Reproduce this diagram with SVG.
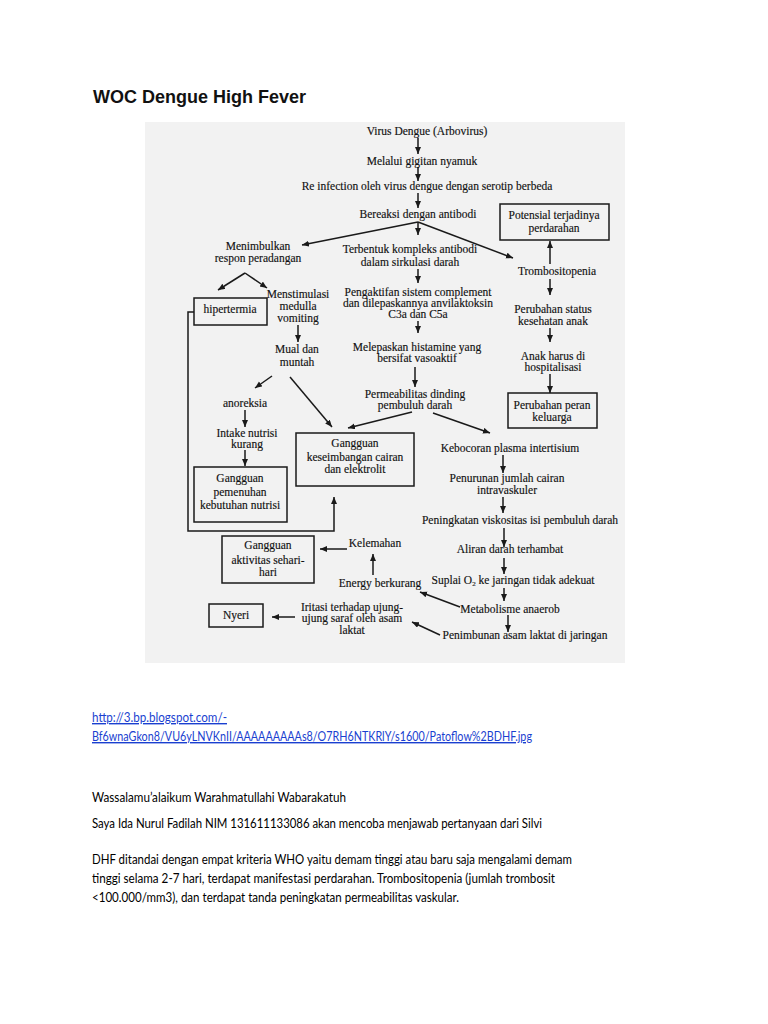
<svg xmlns="http://www.w3.org/2000/svg" width="768" height="1024" viewBox="0 0 768 1024">
<style>
.t{font-family:"Liberation Serif","Times New Roman",serif;font-size:11.5px;fill:#111;stroke:#111;stroke-width:0.15;text-anchor:middle}
.b{fill:none;stroke:#1a1a1a;stroke-width:1.5}
.c{fill:none;stroke:#1a1a1a;stroke-width:1.5}
.p{font-family:Lato,"Liberation Sans",sans-serif;font-size:14px;fill:#000}
.l{font-family:Lato,"Liberation Sans",sans-serif;font-size:14px;fill:#1a3fd0;text-decoration:underline}
</style>
<defs>
<marker id="ah" markerUnits="userSpaceOnUse" markerWidth="8" markerHeight="8" refX="7" refY="3" orient="auto">
<path d="M0,0 L7,3 L0,6 Z" fill="#1a1a1a"/>
</marker>
</defs>
<rect width="768" height="1024" fill="#ffffff"/>
<text x="93" y="103" font-family="Liberation Sans,Arial,sans-serif" font-size="18" font-weight="bold" fill="#111">WOC Dengue High Fever</text>
<rect x="145" y="122" width="480" height="541" fill="#f2f2f2"/>

<g id="connectors" class="c">
<line x1="418" y1="138" x2="418" y2="154" marker-end="url(#ah)"/>
<line x1="418" y1="167" x2="418" y2="181" marker-end="url(#ah)"/>
<line x1="418" y1="193" x2="418" y2="208" marker-end="url(#ah)"/>
<line x1="418" y1="222" x2="302" y2="245" marker-end="url(#ah)"/>
<line x1="418" y1="222" x2="418" y2="235" marker-end="url(#ah)"/>
<line x1="418" y1="222" x2="513" y2="258" marker-end="url(#ah)"/>
<line x1="550" y1="264" x2="550" y2="241" marker-end="url(#ah)"/>
<line x1="550" y1="279" x2="550" y2="295" marker-end="url(#ah)"/>
<line x1="550" y1="328" x2="550" y2="342" marker-end="url(#ah)"/>
<line x1="550" y1="374" x2="550" y2="393" marker-end="url(#ah)"/>
<line x1="245" y1="273" x2="218" y2="290" marker-end="url(#ah)"/>
<line x1="245" y1="273" x2="267" y2="288" marker-end="url(#ah)"/>
<line x1="298" y1="325" x2="298" y2="342" marker-end="url(#ah)"/>
<line x1="418" y1="269" x2="418" y2="283" marker-end="url(#ah)"/>
<line x1="418" y1="321" x2="418" y2="333" marker-end="url(#ah)"/>
<line x1="415" y1="367" x2="415" y2="387" marker-end="url(#ah)"/>
<line x1="272" y1="376" x2="255" y2="388" marker-end="url(#ah)"/>
<line x1="290" y1="377" x2="332" y2="427" marker-end="url(#ah)"/>
<line x1="245" y1="410" x2="245" y2="427" marker-end="url(#ah)"/>
<line x1="245" y1="450" x2="245" y2="466" marker-end="url(#ah)"/>
<line x1="412" y1="412" x2="348" y2="428" marker-end="url(#ah)"/>
<line x1="433" y1="413" x2="490" y2="433" marker-end="url(#ah)"/>
<line x1="503" y1="455" x2="503" y2="473" marker-end="url(#ah)"/>
<line x1="503" y1="497" x2="503" y2="513" marker-end="url(#ah)"/>
<line x1="504" y1="528" x2="504" y2="547" marker-end="url(#ah)"/>
<line x1="504" y1="558" x2="504" y2="574" marker-end="url(#ah)"/>
<line x1="504" y1="588" x2="504" y2="601" marker-end="url(#ah)"/>
<line x1="508" y1="615" x2="508" y2="632" marker-end="url(#ah)"/>
<line x1="460" y1="607" x2="420" y2="592" marker-end="url(#ah)"/>
<line x1="440" y1="635" x2="412" y2="622" marker-end="url(#ah)"/>
<line x1="373" y1="575" x2="373" y2="554" marker-end="url(#ah)"/>
<line x1="347" y1="549" x2="320" y2="549" marker-end="url(#ah)"/>
<line x1="295" y1="617" x2="272" y2="617" marker-end="url(#ah)"/>
<polyline points="194,312 188,312 188,531 334,531 334,497" marker-end="url(#ah)"/>
</g>

<g id="n1"><text class="t" x="427" y="134.5">Virus Dengue (Arbovirus)</text></g>
<g id="n2"><text class="t" x="422" y="164.5">Melalui gigitan nyamuk</text></g>
<g id="n3"><text class="t" x="427" y="189.5">Re infection oleh virus dengue dengan serotip berbeda</text></g>
<g id="n4"><text class="t" x="418" y="217.5">Bereaksi dengan antibodi</text></g>
<g id="n5"><rect class="b" x="500" y="204" width="109" height="36"/><text class="t" x="554" y="218.5">Potensial terjadinya</text><text class="t" x="554" y="231.5">perdarahan</text></g>
<g id="n6"><text class="t" x="258" y="249.5">Menimbulkan</text><text class="t" x="258" y="261.5">respon peradangan</text></g>
<g id="n7"><text class="t" x="410" y="252.5">Terbentuk kompleks antibodi</text><text class="t" x="410" y="265.5">dalam sirkulasi darah</text></g>
<g id="n8"><text class="t" x="557" y="274.5">Trombositopenia</text></g>
<g id="n9"><rect class="b" x="194" y="298" width="73" height="27"/><text class="t" x="230" y="312.5">hipertermia</text></g>
<g id="n10"><text class="t" x="298" y="297.5">Menstimulasi</text><text class="t" x="298" y="309.5">medulla</text><text class="t" x="298" y="321.5">vomiting</text></g>
<g id="n11"><text class="t" x="418" y="295.5">Pengaktifan sistem complement</text><text class="t" x="418" y="306.5">dan dilepaskannya anvilaktoksin</text><text class="t" x="418" y="317.5">C3a dan C5a</text></g>
<g id="n12"><text class="t" x="553" y="312.5">Perubahan status</text><text class="t" x="553" y="324.5">kesehatan anak</text></g>
<g id="n13"><text class="t" x="297" y="352.5">Mual dan</text><text class="t" x="297" y="365.5">muntah</text></g>
<g id="n14"><text class="t" x="417" y="350.5">Melepaskan histamine yang</text><text class="t" x="417" y="361.5">bersifat vasoaktif</text></g>
<g id="n15"><text class="t" x="553" y="359.5">Anak harus di</text><text class="t" x="553" y="370.5">hospitalisasi</text></g>
<g id="n16"><text class="t" x="245" y="406.5">anoreksia</text></g>
<g id="n17"><text class="t" x="415" y="397.5">Permeabilitas dinding</text><text class="t" x="415" y="408.5">pembuluh darah</text></g>
<g id="n18"><rect class="b" x="508" y="393" width="89" height="35"/><text class="t" x="552" y="408.5">Perubahan peran</text><text class="t" x="552" y="420.5">keluarga</text></g>
<g id="n19"><text class="t" x="247" y="436.5">Intake nutrisi</text><text class="t" x="247" y="447.5">kurang</text></g>
<g id="n20"><rect class="b" x="296" y="433" width="118" height="53"/><text class="t" x="355" y="446.5">Gangguan</text><text class="t" x="355" y="460.5">keseimbangan  cairan</text><text class="t" x="355" y="472.5">dan elektrolit</text></g>
<g id="n21"><text class="t" x="510" y="451.5">Kebocoran plasma intertisium</text></g>
<g id="n22"><rect class="b" x="194" y="467" width="93" height="55"/><text class="t" x="240" y="481.5">Gangguan</text><text class="t" x="240" y="495.5">pemenuhan</text><text class="t" x="240" y="508.5">kebutuhan nutrisi</text></g>
<g id="n23"><text class="t" x="507" y="481.5">Penurunan jumlah cairan</text><text class="t" x="507" y="493.5">intravaskuler</text></g>
<g id="n24"><text class="t" x="520" y="523.5">Peningkatan viskositas isi pembuluh darah</text></g>
<g id="n25"><rect class="b" x="222" y="536" width="92" height="47"/><text class="t" x="268" y="548.5">Gangguan</text><text class="t" x="268" y="563.5">aktivitas sehari-</text><text class="t" x="268" y="575.5">hari</text></g>
<g id="n26"><text class="t" x="375" y="546.5">Kelemahan</text></g>
<g id="n27"><text class="t" x="510" y="552.5">Aliran darah terhambat</text></g>
<g id="n28"><text class="t" x="513" y="583.5">Suplai O<tspan font-size="7" dy="2">2</tspan><tspan dy="-2"> ke jaringan tidak adekuat</tspan></text></g>
<g id="n29"><text class="t" x="380" y="586.5">Energy berkurang</text></g>
<g id="n30"><text class="t" x="510" y="612.5">Metabolisme anaerob</text></g>
<g id="n31"><rect class="b" x="209" y="604" width="54" height="23"/><text class="t" x="236" y="618.5">Nyeri</text></g>
<g id="n32"><text class="t" x="352" y="610.5">Iritasi terhadap ujung-</text><text class="t" x="352" y="621.5">ujung saraf oleh asam</text><text class="t" x="352" y="633.5">laktat</text></g>
<g id="n33"><text class="t" x="525" y="638.5">Penimbunan asam laktat di jaringan</text></g>

<text class="l" x="92" y="722" textLength="135" lengthAdjust="spacingAndGlyphs">http://3.bp.blogspot.com/-</text>
<text class="l" x="92" y="741" textLength="440" lengthAdjust="spacingAndGlyphs">Bf6wnaGkon8/VU6yLNVKnII/AAAAAAAAAs8/O7RH6NTKRlY/s1600/Patoflow%2BDHF.jpg</text>
<text class="p" x="92" y="802" textLength="254" lengthAdjust="spacingAndGlyphs">Wassalamu’alaikum Warahmatullahi Wabarakatuh</text>
<text class="p" x="92" y="828" textLength="450" lengthAdjust="spacingAndGlyphs">Saya Ida Nurul Fadilah NIM 131611133086 akan mencoba menjawab pertanyaan dari Silvi</text>
<text class="p" x="92" y="864" textLength="480" lengthAdjust="spacingAndGlyphs">DHF ditandai dengan empat kriteria WHO yaitu demam tinggi atau baru saja mengalami demam</text>
<text class="p" x="92" y="883" textLength="463" lengthAdjust="spacingAndGlyphs">tinggi selama 2-7 hari, terdapat manifestasi perdarahan. Trombositopenia (jumlah trombosit</text>
<text class="p" x="92" y="902" textLength="367" lengthAdjust="spacingAndGlyphs">&lt;100.000/mm3), dan terdapat tanda peningkatan permeabilitas vaskular.</text>
</svg>
